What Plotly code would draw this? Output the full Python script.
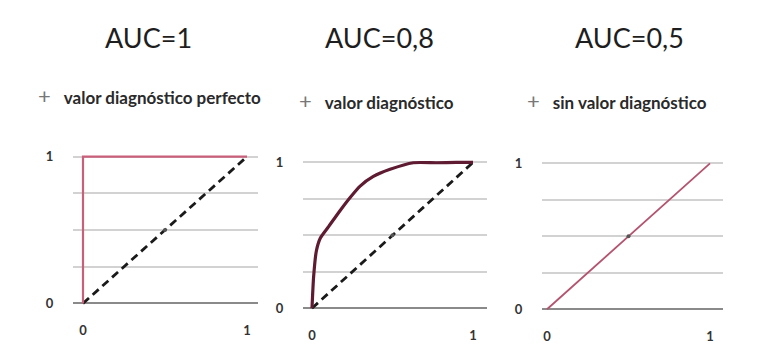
import plotly.graph_objects as go

titles = ["AUC=1", "AUC=0,8", "AUC=0,5"]
subtitles = ["valor diagnóstico perfecto", "valor diagnóstico", "sin valor diagnóstico"]

# ROC curves (false positive rate, true positive rate)
perfect_fpr = [0, 0, 1]
perfect_tpr = [0, 1, 1]

good_fpr = [0, 0.01, 0.027, 0.052, 0.103, 0.175, 0.237, 0.299, 0.381, 0.485, 0.629, 0.773, 0.897, 1.0]
good_tpr = [0, 0.216, 0.393, 0.482, 0.56, 0.671, 0.76, 0.838, 0.904, 0.953, 0.998, 0.998, 1.0, 1.0]

random_fpr = [0, 1]
random_tpr = [0, 1]

diag_x = [0, 1]
diag_y = [0, 1]

grid_vals = [0, 0.25, 0.5, 0.75, 1]
grid_text = ["0", "", "", "", "1"]
xtick_vals = [0, 1]
xtick_text = ["0", "1"]

W, H = 780, 357

fig = go.Figure()

# panel geometry in pixels: (grid left, grid right, x0 px, x1 px, y0 px, y1 px)
panels = [
    (73, 258, 83, 247, 307, 156),
    (303, 487, 312, 473, 312, 162),
    (542, 723, 547, 710, 313, 163),
]

line_specs = [
    (perfect_fpr, perfect_tpr, "#c95f7a", 2.2, True),
    (good_fpr, good_tpr, "#5e1b31", 3.2, True),
    (random_fpr, random_tpr, "#b4536f", 1.8, False),
]

for i, (gl, gr, x0, x1, y0, y1) in enumerate(panels):
    n = "" if i == 0 else str(i + 1)
    sx = (x1 - x0)
    sy = (y0 - y1)
    xr = [-(x0 - gl) / sx, 1 + (gr - x1) / sx]
    pad = 0.02
    yr = [-pad, 1 + pad]
    ydom = [(H - (y0 + pad * sy)) / H, (H - (y1 - pad * sy)) / H]
    xdom = [gl / W, gr / W]
    fig.update_layout(**{
        "xaxis" + n: dict(domain=xdom, range=xr, showgrid=False, zeroline=False,
                          tickvals=xtick_vals, ticktext=xtick_text, ticks="outside",
                          ticklen=12, tickcolor="rgba(0,0,0,0)", showline=False,
                          tickfont=dict(family="Lato", size=13, color="#333", weight="bold"),
                          anchor="y" + n, fixedrange=True),
        "yaxis" + n: dict(domain=ydom, range=yr, showgrid=True, gridcolor="#d2d2d2",
                          gridwidth=1.5, zeroline=True, zerolinecolor="#8a8a8a",
                          zerolinewidth=2, tickvals=grid_vals, ticktext=grid_text,
                          ticks="outside", ticklen=16, tickcolor="rgba(0,0,0,0)",
                          tickfont=dict(family="Lato", size=13, color="#333", weight="bold"),
                          anchor="x" + n, fixedrange=True),
    })
    lx, ly, col, w, dashed = line_specs[i]
    if dashed:
        fig.add_trace(go.Scatter(x=diag_x, y=diag_y, mode="lines",
                                 line=dict(color="#1a1a1a", width=2.8, dash="8px,5px"),
                                 xaxis="x" + n, yaxis="y" + n, showlegend=False,
                                 cliponaxis=False))
    fig.add_trace(go.Scatter(x=lx, y=ly, mode="lines",
                             line=dict(color=col, width=w, shape="spline" if i == 1 else "linear", smoothing=0.6),
                             xaxis="x" + n, yaxis="y" + n, showlegend=False,
                             cliponaxis=False))
    fig.add_trace(go.Scatter(x=[0.5], y=[0.5], mode="markers",
                             marker=dict(color="#555", size=4),
                             xaxis="x" + n, yaxis="y" + n, showlegend=False))

title_x = [148, 379, 629]
for t, xc in zip(titles, title_x):
    fig.add_annotation(text=t, x=xc / W, y=1 - 33 / H, xref="paper", yref="paper",
                       showarrow=False, xanchor="center", yanchor="middle",
                       font=dict(family="Lato", size=27, color="#1e1e1e"))

sub_pos = [(36, 93), (297, 98), (525, 98)]
for s, (px, py) in zip(subtitles, sub_pos):
    fig.add_annotation(text="<span style='color:#777;font-size:22px'>+</span>&nbsp;&nbsp;&nbsp;<b>" + s + "</b>",
                       x=px / W, y=1 - py / H, xref="paper", yref="paper",
                       showarrow=False, xanchor="left", yanchor="middle",
                       font=dict(family="Lato", size=17, color="#2a2a2a"))

fig.update_layout(width=W, height=H, margin=dict(l=0, r=0, t=0, b=0),
                  paper_bgcolor="white", plot_bgcolor="white")

fig.write_html("out.html")
